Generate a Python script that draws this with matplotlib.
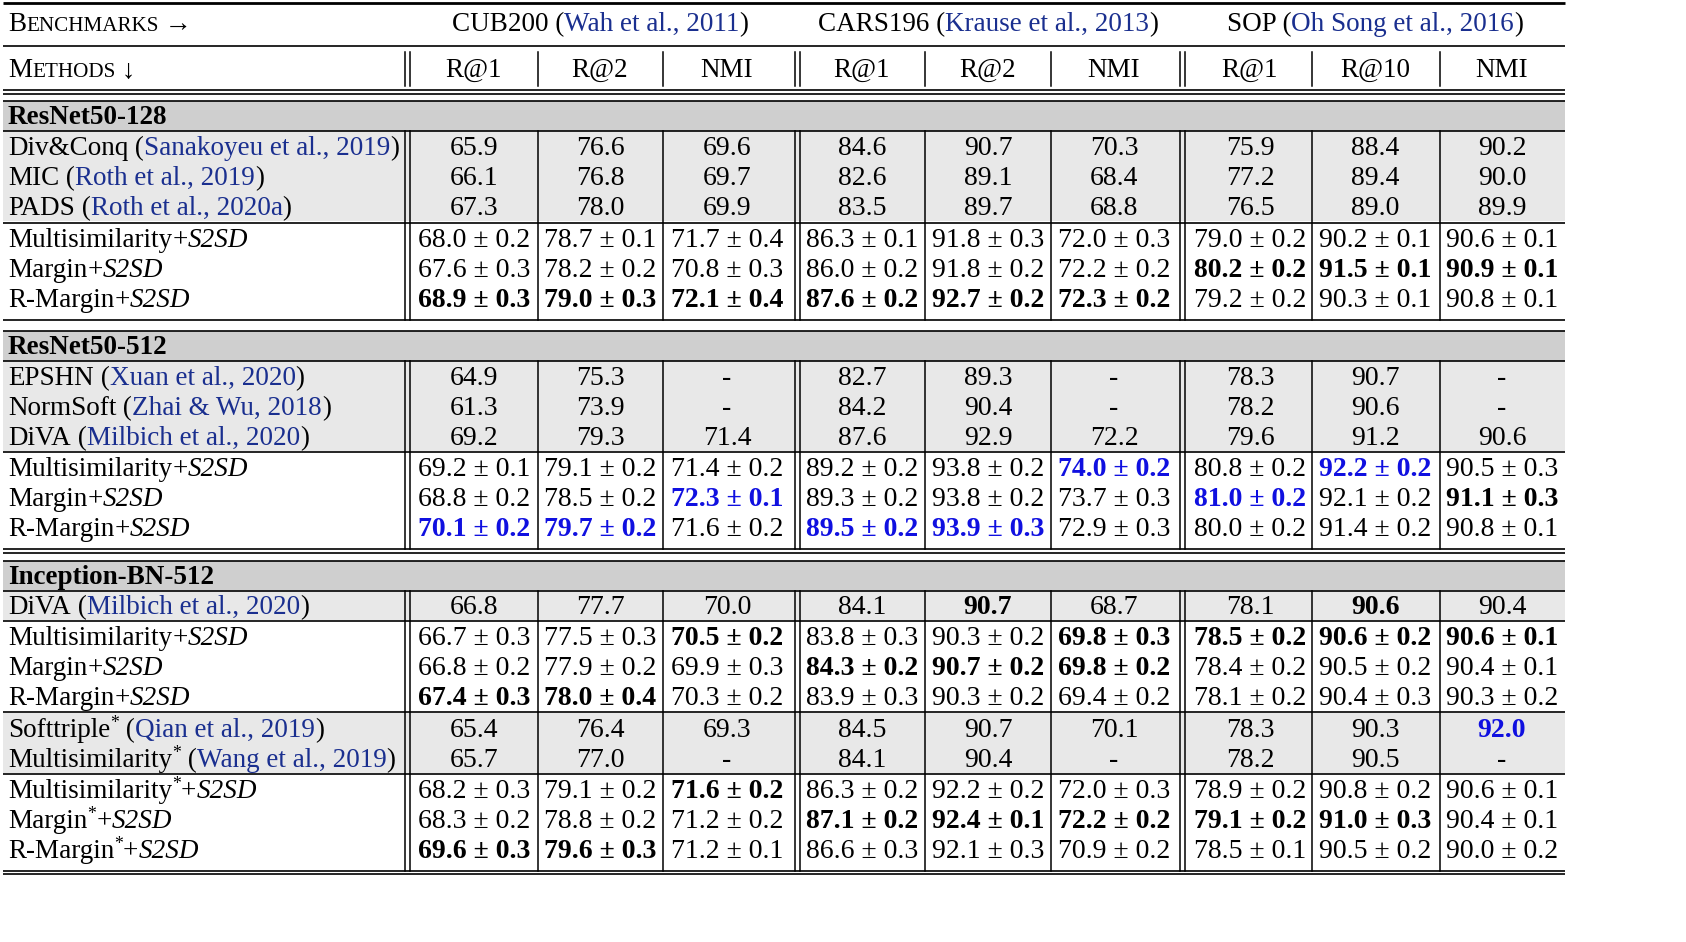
import matplotlib
matplotlib.use("Agg")
import matplotlib.pyplot as plt

W, H = 1686, 942
FS = 19.5
CFS = 20
FONT = "Liberation Serif"
CITE = "#1a2f8f"
BLUE = "#1010e0"

sections = ["ResNet50-128", "ResNet50-512", "Inception-BN-512"]
benchmarks = [("CUB200", "Wah et al., 2011"), ("CARS196", "Krause et al., 2013"), ("SOP", "Oh Song et al., 2016")]
metrics = ["R@1", "R@2", "NMI", "R@1", "R@2", "NMI", "R@1", "R@10", "NMI"]

# label: (name, citation, s2sd, star) ; values: "!" bold, "^" blue bold
rn128_names = [("Div&Conq", "Sanakoyeu et al., 2019", False, False), ("MIC", "Roth et al., 2019", False, False),
               ("PADS", "Roth et al., 2020a", False, False), ("Multisimilarity", None, True, False),
               ("Margin", None, True, False), ("R-Margin", None, True, False)]
rn128_vals = [
    ["65.9", "76.6", "69.6", "84.6", "90.7", "70.3", "75.9", "88.4", "90.2"],
    ["66.1", "76.8", "69.7", "82.6", "89.1", "68.4", "77.2", "89.4", "90.0"],
    ["67.3", "78.0", "69.9", "83.5", "89.7", "68.8", "76.5", "89.0", "89.9"],
    ["68.0±0.2", "78.7±0.1", "71.7±0.4", "86.3±0.1", "91.8±0.3", "72.0±0.3", "79.0±0.2", "90.2±0.1", "90.6±0.1"],
    ["67.6±0.3", "78.2±0.2", "70.8±0.3", "86.0±0.2", "91.8±0.2", "72.2±0.2", "80.2±0.2!", "91.5±0.1!", "90.9±0.1!"],
    ["68.9±0.3!", "79.0±0.3!", "72.1±0.4!", "87.6±0.2!", "92.7±0.2!", "72.3±0.2!", "79.2±0.2", "90.3±0.1", "90.8±0.1"],
]
rn512_names = [("EPSHN", "Xuan et al., 2020", False, False), ("NormSoft", "Zhai & Wu, 2018", False, False),
               ("DiVA", "Milbich et al., 2020", False, False), ("Multisimilarity", None, True, False),
               ("Margin", None, True, False), ("R-Margin", None, True, False)]
rn512_vals = [
    ["64.9", "75.3", "-", "82.7", "89.3", "-", "78.3", "90.7", "-"],
    ["61.3", "73.9", "-", "84.2", "90.4", "-", "78.2", "90.6", "-"],
    ["69.2", "79.3", "71.4", "87.6", "92.9", "72.2", "79.6", "91.2", "90.6"],
    ["69.2±0.1", "79.1±0.2", "71.4±0.2", "89.2±0.2", "93.8±0.2", "74.0±0.2^", "80.8±0.2", "92.2±0.2^", "90.5±0.3"],
    ["68.8±0.2", "78.5±0.2", "72.3±0.1^", "89.3±0.2", "93.8±0.2", "73.7±0.3", "81.0±0.2^", "92.1±0.2", "91.1±0.3!"],
    ["70.1±0.2^", "79.7±0.2^", "71.6±0.2", "89.5±0.2^", "93.9±0.3^", "72.9±0.3", "80.0±0.2", "91.4±0.2", "90.8±0.1"],
]
inc_names = [("DiVA", "Milbich et al., 2020", False, False), ("Multisimilarity", None, True, False),
             ("Margin", None, True, False), ("R-Margin", None, True, False),
             ("Softtriple", "Qian et al., 2019", False, True), ("Multisimilarity", "Wang et al., 2019", False, True),
             ("Multisimilarity", None, True, True), ("Margin", None, True, True), ("R-Margin", None, True, True)]
inc_vals = [
    ["66.8", "77.7", "70.0", "84.1", "90.7!", "68.7", "78.1", "90.6!", "90.4"],
    ["66.7±0.3", "77.5±0.3", "70.5±0.2!", "83.8±0.3", "90.3±0.2", "69.8±0.3!", "78.5±0.2!", "90.6±0.2!", "90.6±0.1!"],
    ["66.8±0.2", "77.9±0.2", "69.9±0.3", "84.3±0.2!", "90.7±0.2!", "69.8±0.2!", "78.4±0.2", "90.5±0.2", "90.4±0.1"],
    ["67.4±0.3!", "78.0±0.4!", "70.3±0.2", "83.9±0.3", "90.3±0.2", "69.4±0.2", "78.1±0.2", "90.4±0.3", "90.3±0.2"],
    ["65.4", "76.4", "69.3", "84.5", "90.7", "70.1", "78.3", "90.3", "92.0^"],
    ["65.7", "77.0", "-", "84.1", "90.4", "-", "78.2", "90.5", "-"],
    ["68.2±0.3", "79.1±0.2", "71.6±0.2!", "86.3±0.2", "92.2±0.2", "72.0±0.3", "78.9±0.2", "90.8±0.2", "90.6±0.1"],
    ["68.3±0.2", "78.8±0.2", "71.2±0.2", "87.1±0.2!", "92.4±0.1!", "72.2±0.2!", "79.1±0.2!", "91.0±0.3!", "90.4±0.1"],
    ["69.6±0.3!", "79.6±0.3!", "71.2±0.1", "86.6±0.3", "92.1±0.3", "70.9±0.2", "78.5±0.1", "90.5±0.2", "90.0±0.2"],
]

fig = plt.figure(figsize=(W / 100, H / 100), dpi=100)
ax = fig.add_axes([0, 0, 1, 1])
ax.set_xlim(0, W); ax.set_ylim(H, 0); ax.axis("off")
fig.canvas.draw()
R = fig.canvas.get_renderer()
BASE = 9  # px from visual center to baseline

def seg_width(s, size, weight, style):
    t = ax.text(0, 0, s, fontsize=size, family=FONT, weight=weight, style=style)
    bb = t.get_window_extent(R); t.remove()
    return bb.width

def segs(x, y, parts, ha="left"):
    widths = [seg_width(p[0], FS * p[4], p[2], p[3]) for p in parts]
    tot = sum(widths)
    if ha == "center":
        x -= tot / 2
    for p, w in zip(parts, widths):
        ax.text(x, y + BASE + p[5], p[0], fontsize=FS * p[4], family=FONT, color=p[1], weight=p[2],
                style=p[3], va="baseline", ha="left")
        x += w

def P(t, c="black", w="normal", s="normal", sc=1.0, dy=0):
    return (t, c, w, s, sc, dy)

LX0, LX1 = 3, 1565
colx = [474, 600, 727, 862, 988, 1114, 1250, 1375, 1502]
bounds = [410, 538, 663, 800, 925, 1051, 1185, 1312, 1440, 1565]
doubles = [405, 795, 1180]

def hline(y, lw=1.2):
    ax.plot([LX0, LX1], [y, y], color="black", lw=lw, solid_capstyle="butt")

def vlines(y0, y1):
    for b in bounds[:-1]:
        ax.plot([b, b], [y0, y1], color="black", lw=1.1)
    for b in doubles:
        ax.plot([b, b], [y0, y1], color="black", lw=1.1)

def rect(y0, y1, color, x0=LX0, x1=LX1):
    ax.add_patch(plt.Rectangle((x0, y0), x1 - x0, y1 - y0, color=color, lw=0, zorder=0))

# header
hline(3, 2.0)
segs(8, 22, [P("B"), P("ENCHMARKS", sc=0.78), P(" →")])
for (b, c), cx in zip(benchmarks, [600, 988, 1375]):
    segs(cx, 22, [P(b + " ("), P(c, CITE), P(")")], ha="center")
hline(46)
segs(8, 68, [P("M"), P("ETHODS", sc=0.78), P(" ↓")])
for m, cx in zip(metrics, colx):
    ax.text(cx, 68 + BASE, m, fontsize=FS, family=FONT, ha="center", va="baseline")
vlines(52, 86)
hline(90); hline(94)

def label(y, n):
    name, cite, s2sd, star = n
    parts = [P(name)]
    if star:
        parts.append(P("*", sc=0.65, dy=-9))
    if cite:
        parts += [P(" ("), P(cite, CITE), P(")")]
    if s2sd:
        parts += [P("+"), P("S2SD", s="italic")]
    segs(8, y, parts)

def cell(x, y, v):
    color, weight = "black", "normal"
    if v.endswith("!"):
        v, weight = v[:-1], "bold"
    elif v.endswith("^"):
        v, weight, color = v[:-1], "bold", BLUE
    v = v.replace("±", " ± ")
    ax.text(x, y + BASE, v, fontsize=CFS, family=FONT, ha="center", va="baseline", color=color, weight=weight)

def section(title, ytitle, names, vals, ys, gray_idx, rules, end):
    rect(ytitle - 14, ytitle + 16, "#cfcfcf")
    hline(ytitle - 14); hline(ytitle + 16)
    ax.text(8, ytitle + BASE, title, fontsize=FS, family=FONT, weight="bold", va="baseline")
    for i in gray_idx:
        rect(ys[i] - 15, ys[i] + 15, "#e8e8e8")
    for r in rules:
        hline(r)
    for n, v, y in zip(names, vals, ys):
        label(y, n)
        for cx, s in zip(colx, v):
            cell(cx, y, s)
    vlines(ytitle + 16, end)

section(sections[0], 115, rn128_names, rn128_vals, [146, 176, 206, 238, 268, 298], [0, 1, 2], [223, 320], 320)
section(sections[1], 345, rn512_names, rn512_vals, [376, 406, 436, 467, 497, 527], [0, 1, 2], [452, 549, 553], 549)
section(sections[2], 575, inc_names, inc_vals, [605, 636, 666, 696, 728, 758, 789, 819, 849],
        [0, 4, 5], [621, 712, 774, 871], 871)
hline(874)

fig.savefig("out.png", dpi=100)
